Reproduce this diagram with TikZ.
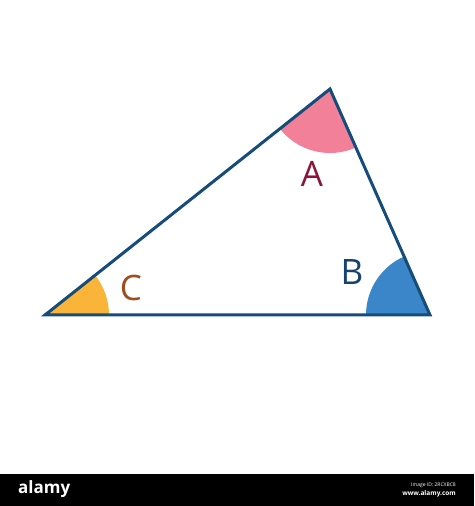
\documentclass[tikz,border=0pt]{standalone}
\usepackage{fontspec}
\setmainfont{Open Sans}
\definecolor{edgeblue}{RGB}{22,76,122}
\definecolor{pinkA}{RGB}{242,128,152}
\definecolor{blueB}{RGB}{58,134,200}
\definecolor{orangeC}{RGB}{250,180,58}
\definecolor{textA}{RGB}{140,22,56}
\definecolor{textB}{RGB}{22,66,110}
\definecolor{textC}{RGB}{158,78,30}
\tikzset{
  letter/.style={font=\fontsize{35}{40}\selectfont},
  wm/.style={text=white, inner sep=0pt}
}
\begin{document}
\begin{tikzpicture}[x=1pt, y=1pt]
    \useasboundingbox (0,0) rectangle (474,506);

    % the three corners
    \coordinate (C) at (45,191);
    \coordinate (A) at (330,417);
    \coordinate (B) at (430,191);

    % the coloured angles
    \fill[orangeC] (C) -- ++(0:64) arc[start angle=0, end angle=38.4, radius=64] -- cycle;
    \fill[pinkA] (A) -- ++(218.4:64) arc[start angle=218.4, end angle=293.9, radius=64] -- cycle;
    \fill[blueB] (B) -- ++(113.9:64) arc[start angle=113.9, end angle=180, radius=64] -- cycle;

    % the triangle
    \draw[edgeblue, line width=3pt, line join=miter] (C) -- (A) -- (B) -- cycle;

    % the labels
    \node[letter, text=textA] (labA) at (312,332) {A};
    \node[letter, text=textB] (labB) at (352,234) {B};
    \node[letter, text=textC] (labC) at (131,218) {C};

    % the bar at the bottom
    \fill[black] (0,0) rectangle (474,32);
    \node[wm, anchor=west, font=\bfseries\fontsize{17}{18}\selectfont] (alamy) at (18,17) {alamy};
    \node[wm, anchor=east, font=\fontsize{5}{6}\selectfont] (imgid) at (456,21) {Image ID: 2RCXBC8};
    \node[wm, anchor=east, font=\bfseries\fontsize{6.5}{7}\selectfont] (www) at (456,12) {www.alamy.com};
\end{tikzpicture}
\end{document}
